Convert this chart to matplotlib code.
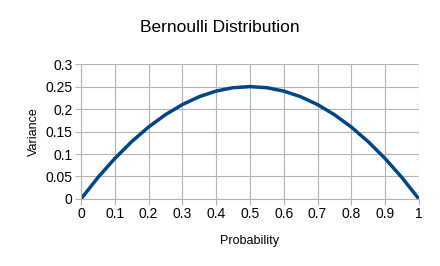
import matplotlib.pyplot as plt

probability = [0.0, 0.05, 0.1, 0.15, 0.2, 0.25, 0.3, 0.35, 0.4, 0.45, 0.5,
               0.55, 0.6, 0.65, 0.7, 0.75, 0.8, 0.85, 0.9, 0.95, 1.0]
variance = [0.0, 0.0475, 0.09, 0.1275, 0.16, 0.1875, 0.21, 0.2275, 0.24, 0.2475, 0.25,
            0.2475, 0.24, 0.2275, 0.21, 0.1875, 0.16, 0.1275, 0.09, 0.0475, 0.0]
x_ticks = [0, 0.1, 0.2, 0.3, 0.4, 0.5, 0.6, 0.7, 0.8, 0.9, 1]
x_labels = ["0", "0.1", "0.2", "0.3", "0.4", "0.5", "0.6", "0.7", "0.8", "0.9", "1"]
y_ticks = [0, 0.05, 0.1, 0.15, 0.2, 0.25, 0.3]
y_labels = ["0", "0.05", "0.1", "0.15", "0.2", "0.25", "0.3"]

plt.rcParams["font.family"] = ["Liberation Sans", "DejaVu Sans"]

fig = plt.figure(figsize=(4.4, 2.66), dpi=100)
ax = fig.add_axes([0.184, 0.252, 0.768, 0.507])
ax.plot(probability, variance, color="#004586", linewidth=2.5, solid_capstyle="round")
ax.set_xlim(0, 1)
ax.set_ylim(0, 0.3)
ax.set_xticks(x_ticks, x_labels)
ax.set_yticks(y_ticks, y_labels)
ax.grid(color="#b3b3b3", linewidth=0.8)
ax.set_axisbelow(True)
for side in ["top", "right"]:
    ax.spines[side].set_visible(False)
for side in ["left", "bottom"]:
    ax.spines[side].set_color("#b3b3b3")
    ax.spines[side].set_linewidth(0.8)
ax.tick_params(length=4, color="#b3b3b3", labelsize=10, labelcolor="black", pad=2)
ax.set_xlabel("Probability", fontsize=9, labelpad=10)
ax.set_ylabel("Variance", fontsize=9, labelpad=4)
fig.suptitle("Bernoulli Distribution", fontsize=12.5, y=0.925)
fig.savefig("out.png", dpi=100, facecolor="white")
plt.close(fig)
